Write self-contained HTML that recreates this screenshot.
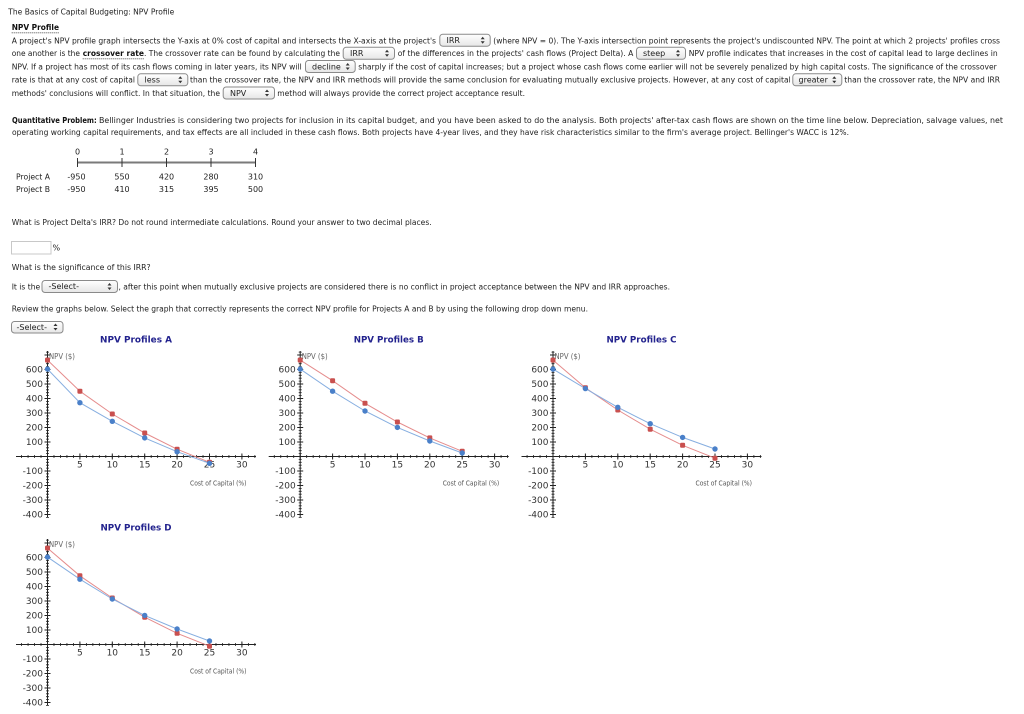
<!DOCTYPE html>
<html>
<head>
<meta charset="utf-8">
<style>
html,body{margin:0;padding:0;background:#fff;}
svg{display:block;}
text{font-family:"DejaVu Sans","Liberation Sans",sans-serif;}
.b{font-size:8px;fill:#1e1e1e;}
.bb{font-size:8px;fill:#111;font-weight:bold;}
.dd{font-size:8px;fill:#222;}
.yl{font-size:9px;fill:#333;text-anchor:end;}
.xl{font-size:9px;fill:#333;text-anchor:middle;}
.ttl{font-size:9px;font-weight:bold;fill:#23238e;text-anchor:middle;}
.npv{font-size:7.5px;fill:#666;}
.coc{font-size:7px;fill:#555;}
.ax{stroke:#222;stroke-width:1;fill:none;}
.rl{stroke:#e58c8c;stroke-width:1;fill:none;}
.bl{stroke:#86aee0;stroke-width:1;fill:none;}
.rm{fill:#c9504f;}
.bm{fill:#4a80c9;}
.box{fill:url(#gr);stroke:#8a8a8a;stroke-width:1;}
</style>
</head>
<body>
<svg width="1024" height="714" viewBox="0 0 1024 714" xmlns="http://www.w3.org/2000/svg">
<defs>
<linearGradient id="gr" x1="0" y1="0" x2="0" y2="1">
<stop offset="0" stop-color="#ffffff"/>
<stop offset="1" stop-color="#e6e6e6"/>
</linearGradient>
</defs>
<rect width="1024" height="714" fill="#fff"/>

<!-- Header -->
<text class="b" x="8.3" y="14.5" textLength="166" lengthAdjust="spacingAndGlyphs">The Basics of Capital Budgeting: NPV Profile</text>
<text class="bb" x="11.7" y="30" textLength="47.3" lengthAdjust="spacingAndGlyphs">NPV Profile</text>
<line x1="11.7" y1="32.8" x2="59" y2="32.8" stroke="#333" stroke-width="0.8" stroke-dasharray="1 1"/>

<!-- Line 1 -->
<text class="b" x="11.7" y="43.5" textLength="424.3" lengthAdjust="spacingAndGlyphs">A project's NPV profile graph intersects the Y-axis at 0% cost of capital and intersects the X-axis at the project's</text>
<g><rect class="box" x="439.8" y="34.2" width="50.4" height="12" rx="3"/><text class="dd" x="446.5" y="43">IRR</text><path d="M480.7 39.2 L482.7 36.7 L484.7 39.2 Z M480.7 41.2 L482.7 43.7 L484.7 41.2 Z" fill="#333"/></g>
<text class="b" x="493.3" y="43.5" textLength="506.7" lengthAdjust="spacingAndGlyphs">(where NPV = 0). The Y-axis intersection point represents the project's undiscounted NPV. The point at which 2 projects' profiles cross</text>

<!-- Line 2 -->
<text class="b" x="11.7" y="56.2" textLength="68.3" lengthAdjust="spacingAndGlyphs">one another is the</text>
<text class="bb" x="82.7" y="56.2" textLength="61.3" lengthAdjust="spacingAndGlyphs">crossover rate</text>
<line x1="82.7" y1="58.8" x2="144" y2="58.8" stroke="#333" stroke-width="0.8" stroke-dasharray="1 1"/>
<text class="b" x="144" y="56.2" textLength="196" lengthAdjust="spacingAndGlyphs">. The crossover rate can be found by calculating the</text>
<g><rect class="box" x="343.2" y="47.3" width="51.3" height="12" rx="3"/><text class="dd" x="350" y="56.1">IRR</text><path d="M385 52.3 L387 49.8 L389 52.3 Z M385 54.3 L387 56.8 L389 54.3 Z" fill="#333"/></g>
<text class="b" x="397.7" y="56.2" textLength="235.6" lengthAdjust="spacingAndGlyphs">of the differences in the projects' cash flows (Project Delta). A</text>
<g><rect class="box" x="636.5" y="47.3" width="49" height="12" rx="3"/><text class="dd" x="643" y="56.1">steep</text><path d="M676 52.3 L678 49.8 L680 52.3 Z M676 54.3 L678 56.8 L680 54.3 Z" fill="#333"/></g>
<text class="b" x="688.7" y="56.2" textLength="309" lengthAdjust="spacingAndGlyphs">NPV profile indicates that increases in the cost of capital lead to large declines in</text>

<!-- Line 3 -->
<text class="b" x="11.7" y="69.4" textLength="290" lengthAdjust="spacingAndGlyphs">NPV. If a project has most of its cash flows coming in later years, its NPV will</text>
<g><rect class="box" x="305.5" y="60.5" width="49.7" height="12" rx="3"/><text class="dd" x="312" y="69.3">decline</text><path d="M345.7 65.5 L347.7 63 L349.7 65.5 Z M345.7 67.5 L347.7 70 L349.7 67.5 Z" fill="#333"/></g>
<text class="b" x="358.3" y="69.4" textLength="638.4" lengthAdjust="spacingAndGlyphs">sharply if the cost of capital increases; but a project whose cash flows come earlier will not be severely penalized by high capital costs. The significance of the crossover</text>

<!-- Line 4 -->
<text class="b" x="11.7" y="82.7" textLength="123.3" lengthAdjust="spacingAndGlyphs">rate is that at any cost of capital</text>
<g><rect class="box" x="137.8" y="73.8" width="50" height="12" rx="3"/><text class="dd" x="144.5" y="82.6">less</text><path d="M178.3 78.8 L180.3 76.3 L182.3 78.8 Z M178.3 80.8 L180.3 83.3 L182.3 80.8 Z" fill="#333"/></g>
<text class="b" x="190" y="82.7" textLength="600.7" lengthAdjust="spacingAndGlyphs">than the crossover rate, the NPV and IRR methods will provide the same conclusion for evaluating mutually exclusive projects. However, at any cost of capital</text>
<g><rect class="box" x="792.8" y="73.8" width="49" height="12" rx="3"/><text class="dd" x="798.5" y="82.6">greater</text><path d="M832.3 78.8 L834.3 76.3 L836.3 78.8 Z M832.3 80.8 L834.3 83.3 L836.3 80.8 Z" fill="#333"/></g>
<text class="b" x="844.3" y="82.7" textLength="155.7" lengthAdjust="spacingAndGlyphs">than the crossover rate, the NPV and IRR</text>

<!-- Line 5 -->
<text class="b" x="11.7" y="96" textLength="208.3" lengthAdjust="spacingAndGlyphs">methods' conclusions will conflict. In that situation, the</text>
<g><rect class="box" x="223.2" y="87" width="51.3" height="12" rx="3"/><text class="dd" x="230" y="95.8">NPV</text><path d="M265 92 L267 89.5 L269 92 Z M265 94 L267 96.5 L269 94 Z" fill="#333"/></g>
<text class="b" x="277.3" y="96" textLength="247.7" lengthAdjust="spacingAndGlyphs">method will always provide the correct project acceptance result.</text>

<!-- Quantitative problem -->
<text class="bb" x="12" y="122.8" textLength="84.7" lengthAdjust="spacingAndGlyphs">Quantitative Problem:</text>
<text class="b" x="99" y="122.8" textLength="904" lengthAdjust="spacingAndGlyphs">Bellinger Industries is considering two projects for inclusion in its capital budget, and you have been asked to do the analysis. Both projects' after-tax cash flows are shown on the time line below. Depreciation, salvage values, net</text>
<text class="b" x="12" y="135" textLength="837" lengthAdjust="spacingAndGlyphs">operating working capital requirements, and tax effects are all included in these cash flows. Both projects have 4-year lives, and they have risk characteristics similar to the firm's average project. Bellinger's WACC is 12%.</text>

<!-- Time line -->
<g class="b">
<text x="77.5" y="154.5" text-anchor="middle">0</text>
<text x="122" y="154.5" text-anchor="middle">1</text>
<text x="166.5" y="154.5" text-anchor="middle">2</text>
<text x="211" y="154.5" text-anchor="middle">3</text>
<text x="255.5" y="154.5" text-anchor="middle">4</text>
</g>
<line x1="77.5" y1="162.5" x2="255.5" y2="162.5" stroke="#7a7a7a" stroke-width="2"/>
<g stroke="#333" stroke-width="1">
<line x1="77.5" y1="158" x2="77.5" y2="167"/>
<line x1="122" y1="158" x2="122" y2="167"/>
<line x1="166.5" y1="158" x2="166.5" y2="167"/>
<line x1="211" y1="158" x2="211" y2="167"/>
<line x1="255.5" y1="158" x2="255.5" y2="167"/>
</g>
<text class="b" x="16" y="179.5" textLength="34" lengthAdjust="spacingAndGlyphs">Project A</text>
<text class="b" x="16" y="191.8" textLength="34" lengthAdjust="spacingAndGlyphs">Project B</text>
<g class="b">
<text x="76.5" y="179.5" text-anchor="middle">-950</text>
<text x="122" y="179.5" text-anchor="middle">550</text>
<text x="166.5" y="179.5" text-anchor="middle">420</text>
<text x="211" y="179.5" text-anchor="middle">280</text>
<text x="255.5" y="179.5" text-anchor="middle">310</text>
<text x="76.5" y="191.8" text-anchor="middle">-950</text>
<text x="122" y="191.8" text-anchor="middle">410</text>
<text x="166.5" y="191.8" text-anchor="middle">315</text>
<text x="211" y="191.8" text-anchor="middle">395</text>
<text x="255.5" y="191.8" text-anchor="middle">500</text>
</g>

<!-- Questions -->
<text class="b" x="11.7" y="224.8" textLength="420" lengthAdjust="spacingAndGlyphs">What is Project Delta's IRR? Do not round intermediate calculations. Round your answer to two decimal places.</text>
<rect x="11.5" y="241.5" width="39.5" height="12.5" fill="#fff" stroke="#c8c8c8" stroke-width="1"/>
<text class="b" x="52.5" y="250.5">%</text>
<text class="b" x="11.7" y="269.8" textLength="139" lengthAdjust="spacingAndGlyphs">What is the significance of this IRR?</text>
<text class="b" x="11.7" y="289.3" textLength="28.5" lengthAdjust="spacingAndGlyphs">It is the</text>
<g><rect class="box" x="42" y="280.5" width="75.5" height="12" rx="3"/><text class="dd" x="48.5" y="289.2">-Select-</text><path d="M107.5 285.5 L109.5 283 L111.5 285.5 Z M107.5 287.5 L109.5 290 L111.5 287.5 Z" fill="#333"/></g>
<text class="b" x="118.5" y="289.3" textLength="551.5" lengthAdjust="spacingAndGlyphs">, after this point when mutually exclusive projects are considered there is no conflict in project acceptance between the NPV and IRR approaches.</text>
<text class="b" x="11.7" y="311.5" textLength="576.3" lengthAdjust="spacingAndGlyphs">Review the graphs below. Select the graph that correctly represents the correct NPV profile for Projects A and B by using the following drop down menu.</text>
<g><rect class="box" x="11.5" y="321.5" width="51.5" height="11.5" rx="3"/><text class="dd" x="16.5" y="330">-Select-</text><path d="M53.5 326 L55.5 323.5 L57.5 326 Z M53.5 328 L55.5 330.5 L57.5 328 Z" fill="#333"/></g>

<!-- ============ Chart A ============ -->
<g transform="translate(47.5,456.5)">
<text class="ttl" x="88.5" y="-114" textLength="72" lengthAdjust="spacingAndGlyphs">NPV Profiles A</text>
<line class="ax" x1="-31.5" y1="0" x2="208.5" y2="0"/>
<line class="ax" x1="0" y1="-105.5" x2="0" y2="61"/>
<line x1="0" y1="61.3" x2="0" y2="-104.8" stroke="#222" stroke-width="3" stroke-dasharray="0.8 2.1"/>
<line x1="0" y1="58.5" x2="0" y2="-102" stroke="#222" stroke-width="6" stroke-dasharray="1 13.5"/>
<line x1="-26.32" y1="0" x2="207.76" y2="0" stroke="#222" stroke-width="3" stroke-dasharray="0.8 5.68"/>
<line x1="-0.5" y1="0" x2="194.9" y2="0" stroke="#222" stroke-width="6" stroke-dasharray="1 31.4"/>
<text class="yl" x="-4.5" y="-83.8">600</text>
<text class="yl" x="-4.5" y="-69.3">500</text>
<text class="yl" x="-4.5" y="-54.8">400</text>
<text class="yl" x="-4.5" y="-40.3">300</text>
<text class="yl" x="-4.5" y="-25.8">200</text>
<text class="yl" x="-4.5" y="-11.3">100</text>
<text class="yl" x="-4.5" y="17.7">-100</text>
<text class="yl" x="-4.5" y="32.2">-200</text>
<text class="yl" x="-4.5" y="46.7">-300</text>
<text class="yl" x="-4.5" y="61.2">-400</text>
<text class="xl" x="32.4" y="10.8">5</text>
<text class="xl" x="64.8" y="10.8">10</text>
<text class="xl" x="97.2" y="10.8">15</text>
<text class="xl" x="129.6" y="10.8">20</text>
<text class="xl" x="162" y="10.8">25</text>
<text class="xl" x="194.4" y="10.8">30</text>
<text class="npv" x="1.5" y="-97.5" textLength="26" lengthAdjust="spacingAndGlyphs">NPV ($)</text>
<text class="coc" x="142.5" y="28.8" textLength="56.5" lengthAdjust="spacingAndGlyphs">Cost of Capital (%)</text>
<polyline class="rl" points="0,-96.4 32.4,-65.3 64.8,-42.5 97.2,-23.5 129.6,-7.3 162,5.8"/>
<polyline class="bl" points="0,-87.4 32.4,-53.8 64.8,-35.2 97.2,-18.6 129.6,-4.8 162,6.8"/>
<g class="rm">
<rect x="-2.5" y="-98.9" width="5" height="5" rx="1.2"/>
<rect x="29.9" y="-67.8" width="5" height="5" rx="1.2"/>
<rect x="62.3" y="-45" width="5" height="5" rx="1.2"/>
<rect x="94.7" y="-26" width="5" height="5" rx="1.2"/>
<rect x="127.1" y="-9.8" width="5" height="5" rx="1.2"/>
<rect x="159.5" y="3.3" width="5" height="5" rx="1.2"/>
</g>
<g class="bm">
<circle cx="0" cy="-87.4" r="2.7"/>
<circle cx="32.4" cy="-53.8" r="2.7"/>
<circle cx="64.8" cy="-35.2" r="2.7"/>
<circle cx="97.2" cy="-18.6" r="2.7"/>
<circle cx="129.6" cy="-4.8" r="2.7"/>
<circle cx="162" cy="6.8" r="2.7"/>
</g>
</g>

<!-- ============ Chart B ============ -->
<g transform="translate(300.2,456.5)">
<text class="ttl" x="88.5" y="-114" textLength="70" lengthAdjust="spacingAndGlyphs">NPV Profiles B</text>
<line class="ax" x1="-31.5" y1="0" x2="208.5" y2="0"/>
<line class="ax" x1="0" y1="-105.5" x2="0" y2="61"/>
<line x1="0" y1="61.3" x2="0" y2="-104.8" stroke="#222" stroke-width="3" stroke-dasharray="0.8 2.1"/>
<line x1="0" y1="58.5" x2="0" y2="-102" stroke="#222" stroke-width="6" stroke-dasharray="1 13.5"/>
<line x1="-26.32" y1="0" x2="207.76" y2="0" stroke="#222" stroke-width="3" stroke-dasharray="0.8 5.68"/>
<line x1="-0.5" y1="0" x2="194.9" y2="0" stroke="#222" stroke-width="6" stroke-dasharray="1 31.4"/>
<text class="yl" x="-4.5" y="-83.8">600</text>
<text class="yl" x="-4.5" y="-69.3">500</text>
<text class="yl" x="-4.5" y="-54.8">400</text>
<text class="yl" x="-4.5" y="-40.3">300</text>
<text class="yl" x="-4.5" y="-25.8">200</text>
<text class="yl" x="-4.5" y="-11.3">100</text>
<text class="yl" x="-4.5" y="17.7">-100</text>
<text class="yl" x="-4.5" y="32.2">-200</text>
<text class="yl" x="-4.5" y="46.7">-300</text>
<text class="yl" x="-4.5" y="61.2">-400</text>
<text class="xl" x="32.4" y="10.8">5</text>
<text class="xl" x="64.8" y="10.8">10</text>
<text class="xl" x="97.2" y="10.8">15</text>
<text class="xl" x="129.6" y="10.8">20</text>
<text class="xl" x="162" y="10.8">25</text>
<text class="xl" x="194.4" y="10.8">30</text>
<text class="npv" x="1.5" y="-97.5" textLength="26" lengthAdjust="spacingAndGlyphs">NPV ($)</text>
<text class="coc" x="142.5" y="28.8" textLength="56.5" lengthAdjust="spacingAndGlyphs">Cost of Capital (%)</text>
<polyline class="rl" points="0,-96.4 32.4,-75.8 64.8,-53.2 97.2,-34.5 129.6,-18.6 162,-5.2"/>
<polyline class="bl" points="0,-87.4 32.4,-65.3 64.8,-45.5 97.2,-29.1 129.6,-15.5 162,-3.5"/>
<g class="rm">
<rect x="-2.5" y="-98.9" width="5" height="5" rx="1.2"/>
<rect x="29.9" y="-78.3" width="5" height="5" rx="1.2"/>
<rect x="62.3" y="-55.7" width="5" height="5" rx="1.2"/>
<rect x="94.7" y="-37" width="5" height="5" rx="1.2"/>
<rect x="127.1" y="-21.1" width="5" height="5" rx="1.2"/>
<rect x="159.5" y="-7.7" width="5" height="5" rx="1.2"/>
</g>
<g class="bm">
<circle cx="0" cy="-87.4" r="2.7"/>
<circle cx="32.4" cy="-65.3" r="2.7"/>
<circle cx="64.8" cy="-45.5" r="2.7"/>
<circle cx="97.2" cy="-29.1" r="2.7"/>
<circle cx="129.6" cy="-15.5" r="2.7"/>
<circle cx="162" cy="-3.5" r="2.7"/>
</g>
</g>

<!-- ============ Chart C ============ -->
<g transform="translate(553,456.5)">
<text class="ttl" x="88.5" y="-114" textLength="70" lengthAdjust="spacingAndGlyphs">NPV Profiles C</text>
<line class="ax" x1="-31.5" y1="0" x2="208.5" y2="0"/>
<line class="ax" x1="0" y1="-105.5" x2="0" y2="61"/>
<line x1="0" y1="61.3" x2="0" y2="-104.8" stroke="#222" stroke-width="3" stroke-dasharray="0.8 2.1"/>
<line x1="0" y1="58.5" x2="0" y2="-102" stroke="#222" stroke-width="6" stroke-dasharray="1 13.5"/>
<line x1="-26.32" y1="0" x2="207.76" y2="0" stroke="#222" stroke-width="3" stroke-dasharray="0.8 5.68"/>
<line x1="-0.5" y1="0" x2="194.9" y2="0" stroke="#222" stroke-width="6" stroke-dasharray="1 31.4"/>
<text class="yl" x="-4.5" y="-83.8">600</text>
<text class="yl" x="-4.5" y="-69.3">500</text>
<text class="yl" x="-4.5" y="-54.8">400</text>
<text class="yl" x="-4.5" y="-40.3">300</text>
<text class="yl" x="-4.5" y="-25.8">200</text>
<text class="yl" x="-4.5" y="-11.3">100</text>
<text class="yl" x="-4.5" y="17.7">-100</text>
<text class="yl" x="-4.5" y="32.2">-200</text>
<text class="yl" x="-4.5" y="46.7">-300</text>
<text class="yl" x="-4.5" y="61.2">-400</text>
<text class="xl" x="32.4" y="10.8">5</text>
<text class="xl" x="64.8" y="10.8">10</text>
<text class="xl" x="97.2" y="10.8">15</text>
<text class="xl" x="129.6" y="10.8">20</text>
<text class="xl" x="162" y="10.8">25</text>
<text class="xl" x="194.4" y="10.8">30</text>
<text class="npv" x="1.5" y="-97.5" textLength="26" lengthAdjust="spacingAndGlyphs">NPV ($)</text>
<text class="coc" x="142.5" y="28.8" textLength="56.5" lengthAdjust="spacingAndGlyphs">Cost of Capital (%)</text>
<polyline class="rl" points="0,-96.4 32.4,-68.7 64.8,-46.5 97.2,-27.3 129.6,-11.2 162,1.7"/>
<polyline class="bl" points="0,-87.4 32.4,-67.9 64.8,-49.2 97.2,-32.8 129.6,-19.1 162,-7.5"/>
<g class="rm">
<rect x="-2.5" y="-98.9" width="5" height="5" rx="1.2"/>
<rect x="29.9" y="-71.2" width="5" height="5" rx="1.2"/>
<rect x="62.3" y="-49" width="5" height="5" rx="1.2"/>
<rect x="94.7" y="-29.8" width="5" height="5" rx="1.2"/>
<rect x="127.1" y="-13.7" width="5" height="5" rx="1.2"/>
<rect x="159.5" y="-0.8" width="5" height="5" rx="1.2"/>
</g>
<g class="bm">
<circle cx="0" cy="-87.4" r="2.7"/>
<circle cx="32.4" cy="-67.9" r="2.7"/>
<circle cx="64.8" cy="-49.2" r="2.7"/>
<circle cx="97.2" cy="-32.8" r="2.7"/>
<circle cx="129.6" cy="-19.1" r="2.7"/>
<circle cx="162" cy="-7.5" r="2.7"/>
</g>
</g>

<!-- ============ Chart D ============ -->
<g transform="translate(47.5,644.5)">
<text class="ttl" x="88.5" y="-114" textLength="71" lengthAdjust="spacingAndGlyphs">NPV Profiles D</text>
<line class="ax" x1="-31.5" y1="0" x2="208.5" y2="0"/>
<line class="ax" x1="0" y1="-105.5" x2="0" y2="61"/>
<line x1="0" y1="61.3" x2="0" y2="-104.8" stroke="#222" stroke-width="3" stroke-dasharray="0.8 2.1"/>
<line x1="0" y1="58.5" x2="0" y2="-102" stroke="#222" stroke-width="6" stroke-dasharray="1 13.5"/>
<line x1="-26.32" y1="0" x2="207.76" y2="0" stroke="#222" stroke-width="3" stroke-dasharray="0.8 5.68"/>
<line x1="-0.5" y1="0" x2="194.9" y2="0" stroke="#222" stroke-width="6" stroke-dasharray="1 31.4"/>
<text class="yl" x="-4.5" y="-83.8">600</text>
<text class="yl" x="-4.5" y="-69.3">500</text>
<text class="yl" x="-4.5" y="-54.8">400</text>
<text class="yl" x="-4.5" y="-40.3">300</text>
<text class="yl" x="-4.5" y="-25.8">200</text>
<text class="yl" x="-4.5" y="-11.3">100</text>
<text class="yl" x="-4.5" y="17.7">-100</text>
<text class="yl" x="-4.5" y="32.2">-200</text>
<text class="yl" x="-4.5" y="46.7">-300</text>
<text class="yl" x="-4.5" y="61.2">-400</text>
<text class="xl" x="32.4" y="10.8">5</text>
<text class="xl" x="64.8" y="10.8">10</text>
<text class="xl" x="97.2" y="10.8">15</text>
<text class="xl" x="129.6" y="10.8">20</text>
<text class="xl" x="162" y="10.8">25</text>
<text class="xl" x="194.4" y="10.8">30</text>
<text class="npv" x="1.5" y="-97.5" textLength="26" lengthAdjust="spacingAndGlyphs">NPV ($)</text>
<text class="coc" x="142.5" y="28.8" textLength="56.5" lengthAdjust="spacingAndGlyphs">Cost of Capital (%)</text>
<polyline class="rl" points="0,-96.4 32.4,-68.7 64.8,-46.5 97.2,-27.3 129.6,-11.2 162,1.7"/>
<polyline class="bl" points="0,-87.4 32.4,-65.3 64.8,-45.5 97.2,-29.1 129.6,-15.5 162,-3.5"/>
<g class="rm">
<rect x="-2.5" y="-98.9" width="5" height="5" rx="1.2"/>
<rect x="29.9" y="-71.2" width="5" height="5" rx="1.2"/>
<rect x="62.3" y="-49" width="5" height="5" rx="1.2"/>
<rect x="94.7" y="-29.8" width="5" height="5" rx="1.2"/>
<rect x="127.1" y="-13.7" width="5" height="5" rx="1.2"/>
<rect x="159.5" y="-0.8" width="5" height="5" rx="1.2"/>
</g>
<g class="bm">
<circle cx="0" cy="-87.4" r="2.7"/>
<circle cx="32.4" cy="-65.3" r="2.7"/>
<circle cx="64.8" cy="-45.5" r="2.7"/>
<circle cx="97.2" cy="-29.1" r="2.7"/>
<circle cx="129.6" cy="-15.5" r="2.7"/>
<circle cx="162" cy="-3.5" r="2.7"/>
</g>
</g>
</svg>
</body>
</html>
